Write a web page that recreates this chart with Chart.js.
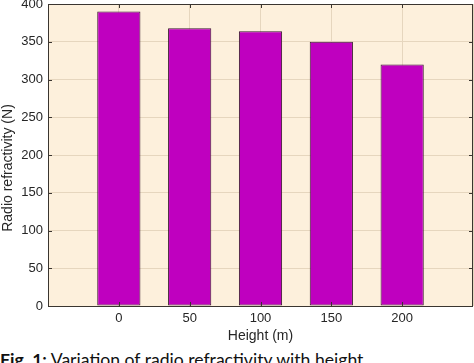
<!DOCTYPE html>
<html><head><meta charset="utf-8">
<script src="https://cdn.jsdelivr.net/npm/chart.js@4"></script>
<style>
html,body{margin:0;padding:0;background:#fff;width:474px;height:363px;overflow:hidden;}
#wrap{position:absolute;left:0;top:0;width:474px;height:345px;}
#cap{position:absolute;left:0;top:350px;line-height:20px;font-family:Lato,"Open Sans",sans-serif;font-size:17.6px;color:#111;white-space:nowrap;}
</style></head><body>
<div id="wrap"><canvas id="c" width="474" height="345"></canvas></div>
<div id="cap"><b>Fig. 1:</b> Variation of radio refractivity with height</div>
<script>
const heights = [0, 50, 100, 150, 200];
const refractivity = [390, 368, 364, 350, 320];
const yTicks = [0, 50, 100, 150, 200, 250, 300, 350, 400];
const xLabel = 'Height (m)';
const yLabel = 'Radio refractivity (N)';
const FONT = '"Liberation Sans", Arial, sans-serif';

const frame = {
  id: 'frame',
  beforeDraw(chart) {
    const {ctx, chartArea: a} = chart;
    ctx.save();
    ctx.fillStyle = '#FDF0DC';
    ctx.fillRect(a.left, a.top, a.right - a.left, a.bottom - a.top);
    ctx.restore();
  },
  afterDatasetsDraw(chart) {
    const {ctx, chartArea: a, scales} = chart;
    ctx.save();
    ctx.strokeStyle = '#3a3530';
    ctx.lineWidth = 1;
    ctx.strokeRect(a.left + 0.5, a.top + 0.5, a.right - a.left - 1, a.bottom - a.top);
    ctx.beginPath();
    heights.forEach(h => {
      const x = Math.round(scales.x.getPixelForValue(h)) + 0.5;
      ctx.moveTo(x, a.bottom); ctx.lineTo(x, a.bottom - 4);
      ctx.moveTo(x, a.top); ctx.lineTo(x, a.top + 4);
    });
    yTicks.forEach(v => {
      const y = Math.round(scales.y.getPixelForValue(v)) + 0.5;
      ctx.moveTo(a.left, y); ctx.lineTo(a.left + 4, y);
      ctx.moveTo(a.right, y); ctx.lineTo(a.right - 4, y);
    });
    ctx.stroke();
    // y axis title (slightly below axis centre, as in the source figure)
    ctx.translate(8, (a.top + a.bottom) / 2 + 13);
    ctx.rotate(-Math.PI / 2);
    ctx.font = '14px ' + FONT;
    ctx.fillStyle = '#262626';
    ctx.textAlign = 'center';
    ctx.textBaseline = 'middle';
    ctx.fillText(yLabel, 0, 0);
    ctx.restore();
  }
};

new Chart(document.getElementById('c'), {
  type: 'bar',
  data: {
    datasets: [{
      data: heights.map((h, i) => ({x: h, y: refractivity[i]})),
      backgroundColor: '#BF00BF',
      borderColor: '#3a1a30',
      borderWidth: 1,
      borderSkipped: false,
      barPercentage: 0.61,
      categoryPercentage: 1
    }]
  },
  plugins: [frame],
  options: {
    responsive: false,
    animation: false,
    events: [],
    layout: {padding: {top: 4, right: 1, left: 0, bottom: 0}},
    plugins: {legend: {display: false}, tooltip: {enabled: false}},
    scales: {
      x: {
        type: 'linear', min: -50, max: 250, offset: false,
        afterBuildTicks(s) { s.ticks = [-50, ...heights, 250].map(v => ({value: v})); },
        afterFit(s) { s.height = 39; s.paddingLeft = 0; s.paddingRight = 0; },
        ticks: {
          callback: v => (v < 0 || v > 200) ? '' : String(v),
          font: {family: FONT, size: 13},
          color: '#262626', padding: 5, maxRotation: 0, autoSkip: false
        },
        grid: {color: '#E6D6BE', tickLength: 0, drawTicks: false, offset: false},
        border: {display: false},
        title: {display: true, text: xLabel, font: {family: FONT, size: 14}, color: '#262626', padding: {top: 2, bottom: 0}}
      },
      y: {
        min: 0, max: 400,
        afterBuildTicks(s) { s.ticks = yTicks.map(v => ({value: v})); },
        afterFit(s) { s.width = 48; s.paddingTop = 0; s.paddingBottom = 0; },
        ticks: {
          font: {family: FONT, size: 13},
          color: '#262626', padding: 5
        },
        grid: {color: '#E6D6BE', tickLength: 0, drawTicks: false},
        border: {display: false},
        title: {display: false}
      }
    }
  }
});
</script>
</body></html>
